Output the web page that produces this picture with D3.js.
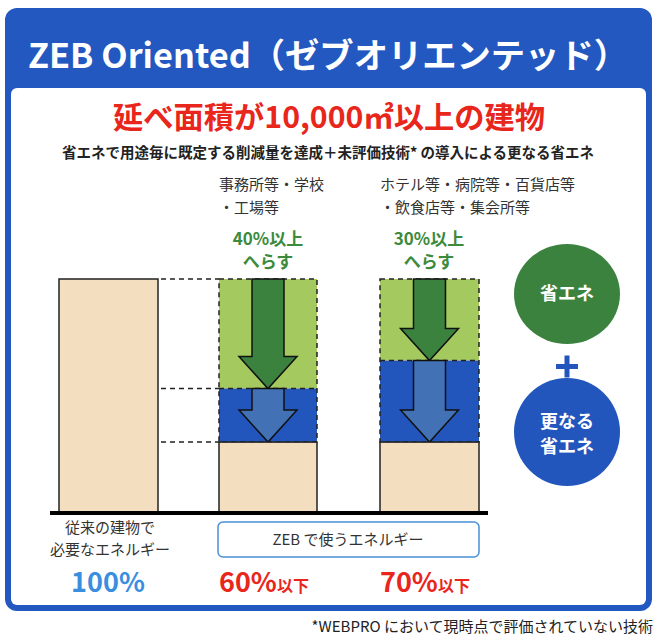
<!DOCTYPE html>
<html><head><meta charset="utf-8">
<script src="https://cdn.jsdelivr.net/npm/d3@7"></script>
<style>body{margin:0;background:#fff}text{font-family:"Noto Sans CJK JP","Noto Sans",sans-serif}</style>
</head><body><svg id="c" width="657" height="640"></svg>
<script>
// bars: share of conventional energy (100 = conventional building)
var bars = ["従来", "事務所等", "ホテル等"];
var usedEnergy = [100, 30, 30];       // beige (remaining energy, as drawn)
var greenBottom = [null, 53, 65];     // bottom of the 省エネ block
var pctLabels = ["100%", "60%", "70%"];
var groupLines = [["事務所等・学校", "・工場等"], ["ホテル等・病院等・百貨店等", "・飲食店等・集会所等"]];
var cutLabels = [["40%以上", "へらす"], ["30%以上", "へらす"]];

var svg = d3.select("#c");
var y = d3.scaleLinear().domain([0, 100]).range([512, 279]);
var x = d3.scaleOrdinal().domain(bars).range([59, 219, 380]);
var bw = [99, 98, 99];

// frame
svg.append("rect").attr("x", 5).attr("y", 8).attr("width", 647).attr("height", 603).attr("rx", 12).attr("fill", "#2358c0");
svg.append("rect").attr("x", 11).attr("y", 88).attr("width", 635).attr("height", 517).attr("rx", 6).attr("fill", "#fff");
svg.append("text").attr("x", 328).attr("y", 68).attr("text-anchor", "middle").attr("fill", "#fff")
  .attr("font-size", 34).attr("font-weight", 700).attr("textLength", 600).attr("lengthAdjust", "spacingAndGlyphs")
  .text("ZEB Oriented（ゼブオリエンテッド）");

svg.append("text").attr("x", 329).attr("y", 128).attr("text-anchor", "middle").attr("fill", "#e8261c")
  .attr("font-size", 30).attr("font-weight", 700).attr("textLength", 432).attr("lengthAdjust", "spacingAndGlyphs")
  .text("延べ面積が10,000㎡以上の建物");
svg.append("text").attr("x", 328).attr("y", 158).attr("text-anchor", "middle").attr("fill", "#222")
  .attr("font-size", 14.5).attr("font-weight", 700).text("省エネで用途毎に既定する削減量を達成＋未評価技術* の導入による更なる省エネ");

groupLines.forEach(function(g, i) {
  var gx = x(bars[i + 1]);
  g.forEach(function(t, j) {
    svg.append("text").attr("x", gx).attr("y", 190 + j * 23).attr("font-size", 15).attr("fill", "#333").text(t);
  });
  cutLabels[i].forEach(function(t, j) {
    svg.append("text").attr("x", gx + 49).attr("y", 245 + j * 23).attr("text-anchor", "middle")
      .attr("font-size", 17).attr("font-weight", 700).attr("fill", "#3c8a3c").text(t);
  });
});

// dashed guide lines
[100, greenBottom[1], usedEnergy[1]].forEach(function(v) {
  svg.append("line").attr("x1", 161).attr("x2", 219).attr("y1", y(v)).attr("y2", y(v))
    .attr("stroke", "#222").attr("stroke-width", 1.5).attr("stroke-dasharray", "5,4");
});

function arrow(cx, top, tip, head, fill) {
  var sw = 16, hw = 29;
  var p = [[cx - sw, top], [cx + sw, top], [cx + sw, head], [cx + hw, head], [cx, tip], [cx - hw, head], [cx - sw, head]];
  svg.append("path").attr("d", d3.line()(p) + "Z").attr("fill", fill).attr("stroke", "#111").attr("stroke-width", 1.5);
}

bars.forEach(function(b, i) {
  var bx = x(b), w = bw[i];
  if (greenBottom[i] != null) {
    svg.append("rect").attr("x", bx).attr("y", y(100)).attr("width", w).attr("height", y(greenBottom[i]) - y(100))
      .attr("fill", "#a3c95f");
    svg.append("rect").attr("x", bx).attr("y", y(greenBottom[i])).attr("width", w).attr("height", y(usedEnergy[i]) - y(greenBottom[i]))
      .attr("fill", "#2356bd");
    svg.append("rect").attr("x", bx).attr("y", y(100)).attr("width", w).attr("height", y(usedEnergy[i]) - y(100))
      .attr("fill", "none").attr("stroke", "#222").attr("stroke-width", 1.5).attr("stroke-dasharray", "5,4");
    svg.append("line").attr("x1", bx).attr("x2", bx + w).attr("y1", y(greenBottom[i])).attr("y2", y(greenBottom[i]))
      .attr("stroke", "#222").attr("stroke-width", 1.5).attr("stroke-dasharray", "5,4");
    arrow(bx + w / 2, y(100), y(greenBottom[i]), y(greenBottom[i]) - 32, "#3b823f");
    arrow(bx + w / 2, y(greenBottom[i]), y(usedEnergy[i]), y(usedEnergy[i]) - 32, "#4272b5");
  }
  svg.append("rect").attr("x", bx).attr("y", y(usedEnergy[i])).attr("width", w).attr("height", y(0) - y(usedEnergy[i]))
    .attr("fill", "#f3dfc0").attr("stroke", "#222").attr("stroke-width", 1.5);
});
svg.append("line").attr("x1", 50).attr("x2", 488).attr("y1", y(0) + 1).attr("y2", y(0) + 1).attr("stroke", "#000").attr("stroke-width", 4);

// legend bubbles
svg.append("ellipse").attr("cx", 567).attr("cy", 294).attr("rx", 53).attr("ry", 50).attr("fill", "#3b823f");
svg.append("text").attr("x", 567).attr("y", 300).attr("text-anchor", "middle").attr("fill", "#fff")
  .attr("font-size", 18).attr("font-weight", 700).text("省エネ");
svg.append("rect").attr("x", 556).attr("y", 364).attr("width", 22).attr("height", 5).attr("fill", "#2356bd");
svg.append("rect").attr("x", 564.5).attr("y", 355.5).attr("width", 5).attr("height", 22).attr("fill", "#2356bd");
svg.append("ellipse").attr("cx", 567).attr("cy", 432).attr("rx", 53).attr("ry", 54).attr("fill", "#2356bd");
[["更なる", 428], ["省エネ", 453]].forEach(function(t) {
  svg.append("text").attr("x", 567).attr("y", t[1]).attr("text-anchor", "middle").attr("fill", "#fff")
    .attr("font-size", 18).attr("font-weight", 700).text(t[0]);
});

// bottom labels
[["従来の建物で", 533], ["必要なエネルギー", 555]].forEach(function(t) {
  svg.append("text").attr("x", 110).attr("y", t[1]).attr("text-anchor", "middle").attr("font-size", 15).attr("fill", "#333").text(t[0]);
});
svg.append("rect").attr("x", 218).attr("y", 522).attr("width", 261).attr("height", 35).attr("rx", 5)
  .attr("fill", "#fff").attr("stroke", "#4a90d9").attr("stroke-width", 1.5);
svg.append("text").attr("x", 348).attr("y", 545).attr("text-anchor", "middle").attr("font-size", 15).attr("fill", "#333").text("ZEB で使うエネルギー");

pctLabels.forEach(function(t, i) {
  var tx = svg.append("text").attr("y", 592).attr("font-weight", 700)
    .attr("fill", i === 0 ? "#3a8ee0" : "#e8261c");
  if (i === 0) {
    tx.attr("x", 108).attr("text-anchor", "middle").attr("font-size", 27).text(t);
  } else {
    tx.attr("x", x(bars[i])).attr("font-size", 27).text(t)
      .append("tspan").attr("font-size", 16).text("以下");
  }
});

svg.append("text").attr("x", 653).attr("y", 632).attr("text-anchor", "end").attr("font-size", 15).attr("fill", "#222")
  .text("*WEBPRO において現時点で評価されていない技術");
</script></body></html>
